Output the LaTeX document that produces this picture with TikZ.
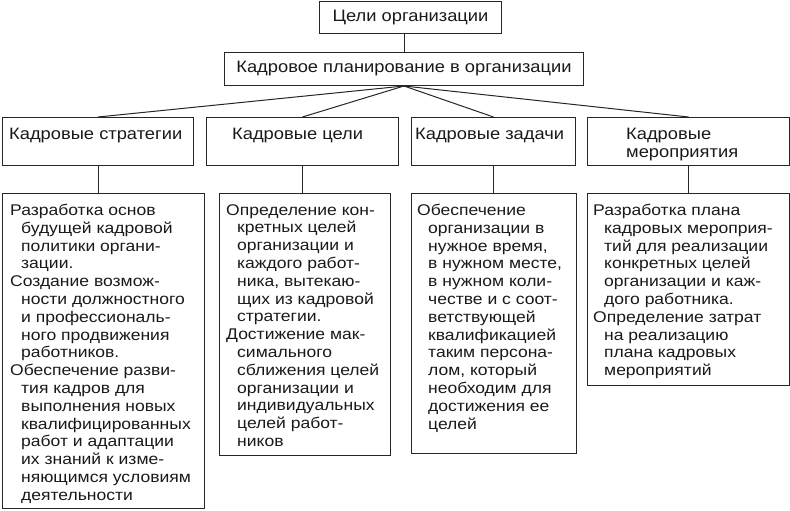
\documentclass[tikz,border=0pt]{standalone}
\usepackage{fontspec}
\setmainfont{Liberation Sans}
\newfontfamily\hdrfont[FakeStretch=1.11]{Liberation Sans}
\newfontfamily\txtfont[FakeStretch=1.13]{Liberation Sans}
\usetikzlibrary{positioning}
\newcommand{\pad}{\hspace*{11pt}}

\begin{document}
\begin{tikzpicture}[x=1pt, y=-1pt,
	box/.style={draw=black!85, line width=1pt, inner sep=0pt, anchor=north west},
	hdr/.style={font=\hdrfont\fontsize{16.5}{18}\selectfont, inner sep=0pt, align=left, text=black!90},
	txt/.style={font=\txtfont\fontsize{15.5}{17.8}\selectfont, inner sep=0pt, align=left, text=black!90},
	link/.style={draw=black!85, line width=1pt}]
	\useasboundingbox (0,0) rectangle (790,511);
	
	% top levels
	\node[box, hdr, minimum width=182pt, minimum height=32pt] (goals) at (319,1) {Цели организации};
	\node[box, hdr, minimum width=359pt, minimum height=33pt] (plan) at (224,52) {Кадровое планирование в организации};
	
	% headers
	\node[box, minimum width=191pt, minimum height=48pt] (strat) at (2,117) {};
	\node[box, minimum width=192pt, minimum height=48pt] (kcel) at (206,117) {};
	\node[box, minimum width=164pt, minimum height=48pt] (zad) at (411,117) {};
	\node[box, minimum width=202pt, minimum height=48pt] (mer) at (587,117) {};
	\node[hdr, below right=11pt and 7pt of strat.north west] (strat-t) {Кадровые стратегии};
	\node[hdr, below right=11pt and 26pt of kcel.north west] (kcel-t) {Кадровые цели};
	\node[hdr, below right=11pt and 4pt of zad.north west] (zad-t) {Кадровые задачи};
	\node[hdr, below right=11pt and 39pt of mer.north west] (mer-t) {Кадровые\\мероприятия};
	
	% details
	\node[box, minimum width=202pt, minimum height=315pt] (strat-d) at (2,193) {};
	\node[box, minimum width=171pt, minimum height=262pt] (kcel-d) at (219,193) {};
	\node[box, minimum width=165pt, minimum height=260pt] (zad-d) at (411,193) {};
	\node[box, minimum width=202pt, minimum height=192pt] (mer-d) at (587,193) {};
	
	\node[txt, below right=11pt and 8pt of strat-d.north west] (strat-dt) {%
		Разработка основ\\ \pad будущей кадровой\\ \pad политики органи-\\ \pad зации.\\
		Создание возмож-\\ \pad ности должностного\\ \pad и профессиональ-\\ \pad ного продвижения\\ \pad работников.\\
		Обеспечение разви-\\ \pad тия кадров для\\ \pad выполнения новых\\ \pad квалифицированных\\ \pad работ и адаптации\\ \pad их знаний к изме-\\ \pad няющимся условиям\\ \pad деятельности};
	\node[txt, below right=11pt and 7pt of kcel-d.north west] (kcel-dt) {%
		Определение кон-\\ \pad кретных целей\\ \pad организации и\\ \pad каждого работ-\\ \pad ника, вытекаю-\\ \pad щих из кадровой\\ \pad стратегии.\\
		Достижение мак-\\ \pad симального\\ \pad сближения целей\\ \pad организации и\\ \pad индивидуальных\\ \pad целей работ-\\ \pad ников};
	\node[txt, below right=11pt and 6pt of zad-d.north west] (zad-dt) {%
		Обеспечение\\ \pad организации в\\ \pad нужное время,\\ \pad в нужном месте,\\ \pad в нужном коли-\\ \pad честве и с соот-\\ \pad ветствующей\\ \pad квалификацией\\ \pad таким персона-\\ \pad лом, который\\ \pad необходим для\\ \pad достижения ее\\ \pad целей};
	\node[txt, below right=11pt and 6pt of mer-d.north west] (mer-dt) {%
		Разработка плана\\ \pad кадровых мероприя-\\ \pad тий для реализации\\ \pad конкретных целей\\ \pad организации и каж-\\ \pad дого работника.\\
		Определение затрат\\ \pad на реализацию\\ \pad плана кадровых\\ \pad мероприятий};
	
	% connectors
	\draw[link] (plan.north) -- (plan.north |- goals.south);
	\foreach \n in {strat, kcel, zad, mer} {
		\draw[link] (plan.south) -- (\n.north);
		\draw[link] (\n.south) -- (\n.south |- \n-d.north);
	}
\end{tikzpicture}
\end{document}
